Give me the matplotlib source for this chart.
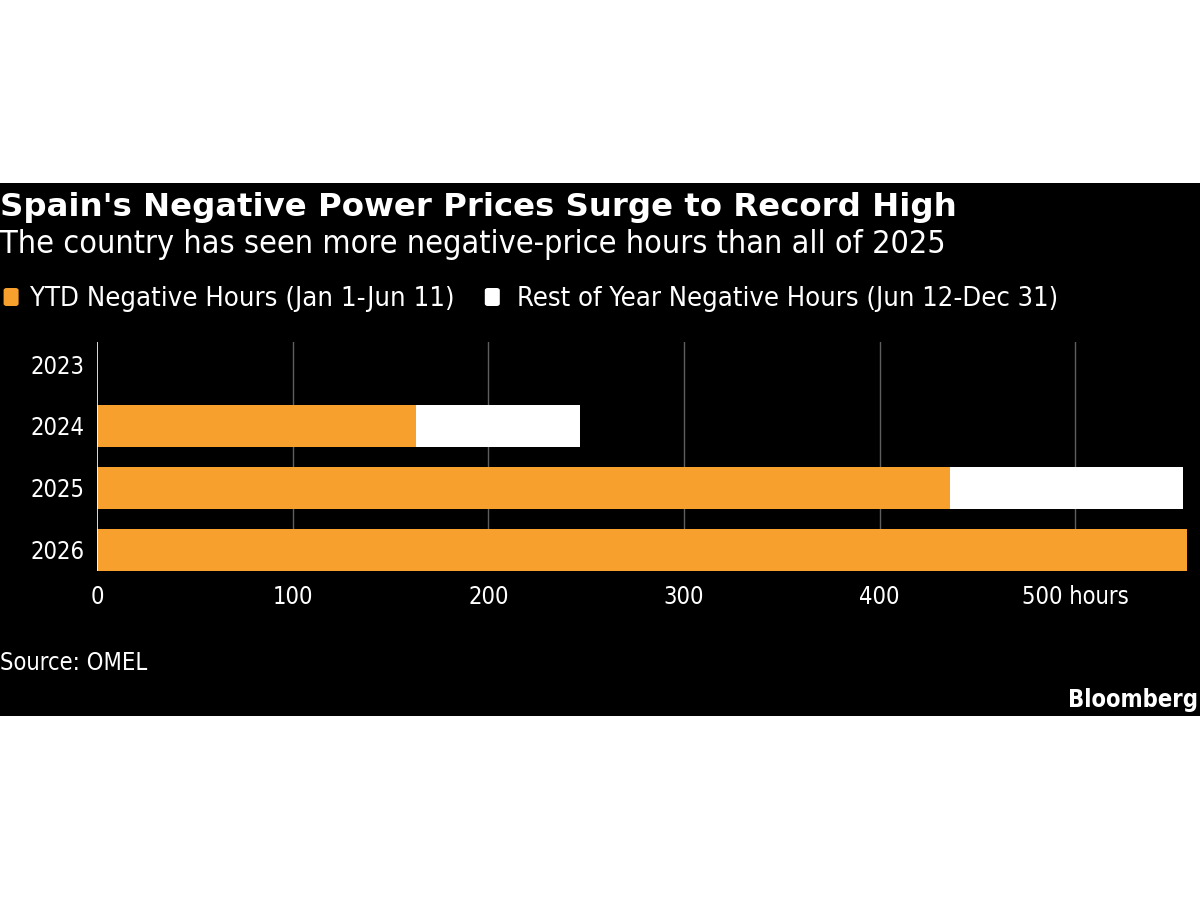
import matplotlib
matplotlib.use("Agg")
import matplotlib.pyplot as plt
from matplotlib.patches import Rectangle, FancyBboxPatch

# data
years = ["2023", "2024", "2025", "2026"]
ytd_hours = [0, 163, 436, 557]
rest_hours = [0, 84, 119, 0]
x_ticks = [0, 100, 200, 300, 400, 500]
x_labels = ["0", "100", "200", "300", "400", "500 hours"]

ORANGE = "#F8A02E"
BG = "black"
FONT = ["DejaVu Sans"]

fig = plt.figure(figsize=(12, 9), dpi=100)
fig.patch.set_facecolor("white")
# black panel
fig.patches.append(Rectangle((0, 0.2044), 1, 0.5923, transform=fig.transFigure,
                             facecolor=BG, edgecolor="none", zorder=-5))

ax = fig.add_axes([0.0808, 0.3652, 0.9083, 0.2548])
ax.set_zorder(2)
ax.set_facecolor(BG)
ypos = list(range(len(years)))
ax.barh(ypos, ytd_hours, height=0.69, color=ORANGE, zorder=3)
ax.barh(ypos, rest_hours, left=ytd_hours, height=0.69, color="white", zorder=3)

ax.set_xlim(0, max(a + b for a, b in zip(ytd_hours, rest_hours)))
ax.set_ylim(3.345, -0.355)
ax.set_yticks(ypos)
ax.set_yticklabels(years)
ax.set_xticks(x_ticks)
ax.set_xticklabels(x_labels)
for s in ax.spines.values():
    s.set_visible(False)
ax.tick_params(length=0, colors="white", labelsize=17)
ax.tick_params(axis="y", pad=9)
ax.tick_params(axis="x", pad=10)
for lab in ax.get_xticklabels() + ax.get_yticklabels():
    lab.set_family(FONT)
    lab.set_stretch("condensed")
for xt in x_ticks[1:]:
    ax.axvline(xt, color="#5e5e5e", lw=1, zorder=1)
ax.axvline(0, color="white", lw=1.2, zorder=4)

fig.text(0.0, 0.76, "Spain's Negative Power Prices Surge to Record High",
         color="white", fontsize=23.3, fontweight="bold", family=FONT, va="baseline")
fig.text(0.0, 0.719, "The country has seen more negative-price hours than all of 2025",
         color="white", fontsize=23.2, family=FONT, stretch="condensed", va="baseline")

# legend
def legend_box(x, color):
    fig.patches.append(FancyBboxPatch((x, 0.66), 0.0125, 0.02,
                                      boxstyle="round,pad=0,rounding_size=0.0025",
                                      transform=fig.transFigure,
                                      facecolor=color, edgecolor="none"))

legend_box(0.003, ORANGE)
fig.text(0.025, 0.66, "YTD Negative Hours (Jan 1-Jun 11)", color="white",
         fontsize=19.7, family=FONT, stretch="condensed", va="baseline")
legend_box(0.404, "white")
fig.text(0.431, 0.66, "Rest of Year Negative Hours (Jun 12-Dec 31)", color="white",
         fontsize=19.6, family=FONT, stretch="condensed", va="baseline")

fig.text(0.0, 0.2556, "Source: OMEL", color="white", fontsize=17,
         family=FONT, stretch="condensed", va="baseline")
fig.text(0.998, 0.2144, "Bloomberg", color="white", fontsize=17, fontweight="bold",
         family=FONT, stretch="condensed", ha="right", va="baseline")

fig.savefig("out.png", dpi=100, facecolor=fig.get_facecolor())
